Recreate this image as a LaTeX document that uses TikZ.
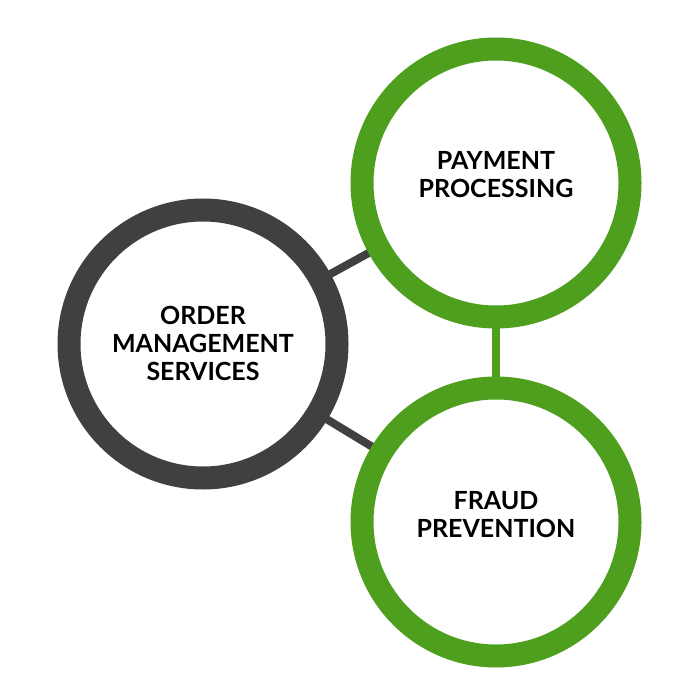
\documentclass[tikz,border=0pt]{standalone}
\usepackage{fontspec}
\setmainfont{Lato}
\definecolor{ring}{HTML}{404040}
\definecolor{grn}{HTML}{4E9F1D}
\begin{document}
\begin{tikzpicture}[x=1pt,y=-1pt,
  ringnode/.style={circle,draw,fill=white,line width=23pt,minimum size=268pt,inner sep=0pt},
  txt/.style={align=center,font=\fontsize{25}{28}\selectfont\bfseries},
  link/.style={line width=8pt}]
\useasboundingbox (0,0) rectangle (700,700);
\coordinate (co) at (203,344);
\coordinate (cp) at (496,183);
\coordinate (cf) at (496,522);
\draw[link,ring] (co) -- (cp);
\draw[link,ring] (co) -- (cf);
\draw[link,grn] (cp) -- (cf);
\node[ringnode,draw=ring] (o) at (co) {};
\node[ringnode,draw=grn] (p) at (cp) {};
\node[ringnode,draw=grn] (f) at (cf) {};
\node[txt] (ot) at (203,343) {ORDER\\MANAGEMENT\\SERVICES};
\node[txt] (pt) at (496,175) {PAYMENT\\PROCESSING};
\node[txt] (ft) at (496,515) {FRAUD\\PREVENTION};
\end{tikzpicture}
\end{document}
